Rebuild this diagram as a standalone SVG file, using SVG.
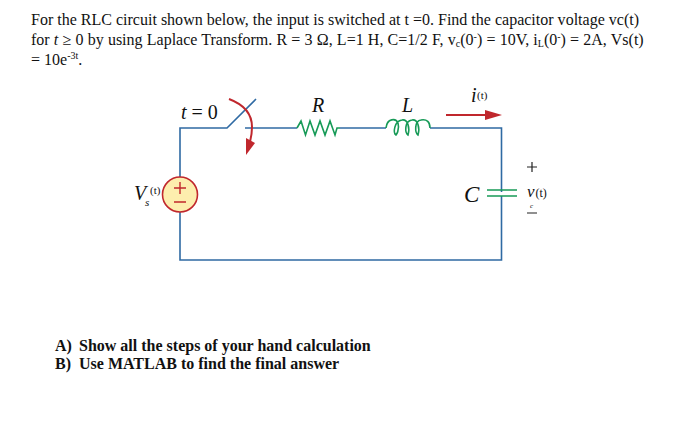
<svg xmlns="http://www.w3.org/2000/svg" width="696" height="423" viewBox="0 0 696 423">
<style>
text{font-family:"Liberation Serif","Times New Roman",serif;fill:#111}
.p{font-size:16px}
.b{font-size:16px;font-weight:bold}
.i{font-style:italic}
.l{font-size:20px;font-style:italic}
.s{font-size:11px}
.w{fill:none;stroke:#2f6aa3;stroke-width:1.6}
.g{fill:none;stroke:#179a57;stroke-width:1.6}
.r{fill:none;stroke:#c0272d;stroke-width:2}
.rf{fill:#c0272d}
</style>
<rect width="696" height="423" fill="#fff"/>
<g id="problem">
<text class="p" x="31" y="25" textLength="608" lengthAdjust="spacingAndGlyphs">For the RLC circuit shown below, the input is switched at t =0. Find the capacitor voltage vc(t)</text>
<text class="p" x="31" y="45" word-spacing="0.2">for <tspan class="i">t</tspan> ≥ 0 by using Laplace Transform. R = 3 Ω, L=1 H, C=1/2 F, v<tspan font-size="10" dy="2">c</tspan><tspan dy="-2">(0</tspan><tspan font-size="10" dy="-5">-</tspan><tspan dy="5">) = 10V, i</tspan><tspan font-size="10" dy="2">L</tspan><tspan dy="-2">(0</tspan><tspan font-size="10" dy="-5">-</tspan><tspan dy="5">) = 2A, Vs(t)</tspan></text>
<text class="p" x="31" y="65">= 10e<tspan font-size="10" dy="-6">-3t</tspan><tspan dy="6">.</tspan></text>
</g>
<g id="connectors">
<path class="w" d="M180 177V128H227L256 99"/>
<path class="w" d="M245 128H297"/>
<path class="w" d="M340 128H386"/>
<path class="w" d="M430 128H501.500V192M501.500 196V260H180V212"/>
</g>
<g id="switch">
<text class="l" x="181" y="119">t<tspan font-style="normal"> = 0</tspan></text>
<path class="r" d="M229 99C245 105 252 115 252 127Q252 134 250 142"/>
<path class="rf" d="M246 155V138L255 143Z"/>
</g>
<g id="resistor">
<text class="l" x="312" y="112">R</text>
<path class="g" d="M297 128L301 121L305.500 135L310 121L315 135L320 121L325 135L330 121L335 135L337 128H340"/>
</g>
<g id="inductor">
<text class="l" x="402" y="112">L</text>
<path class="g" d="M386 128C387 118 396 118 398 123C400 130 396 135 396 135C393 133 394 121 402 120C408 119 410 128 408 135C405 133 404 121 412 120C418 119 420 128 418 135C415 133 414 121 421 120C427 119 430 122 430 128"/>
</g>
<g id="current">
<text class="l" x="471" y="102">i</text>
<text class="s" x="477" y="99">(t)</text>
<path class="r" d="M446 115H486"/>
<path class="rf" d="M485 110L502 115L485 120Z"/>
</g>
<g id="source">
<circle cx="180" cy="194.500" r="17.500" fill="#fdeeae" stroke="#c0272d" stroke-width="1.600"/>
<path fill="none" stroke="#c0272d" stroke-width="1.400" d="M174 188H186M180 182V194M174 202H186"/>
<text class="l" x="134" y="200">V</text>
<text class="s i" x="145" y="206">s</text>
<text class="s" x="150" y="194">(t)</text>
</g>
<g id="capacitor">
<text class="l" x="464" y="202" style="font-size:23px">C</text>
<path class="g" d="M487 190H517M487 196H517"/>
</g>
<g id="capacitor-voltage">
<path fill="none" stroke="#222" stroke-width="1.200" d="M527 167H537M532 162V172M527 213H537"/>
<text class="i" x="527" y="197" style="font-size:17px">v</text>
<text class="i" x="530" y="207.500" style="font-size:7px">c</text>
<text class="s" x="535.500" y="197" style="font-size:12px">(t)</text>
</g>
<g id="tasks">
<text class="b" x="55" y="351">A)<tspan x="79">Show all the steps of your hand calculation</tspan></text>
<text class="b" x="55" y="368.500">B)<tspan x="79">Use MATLAB to find the final answer</tspan></text>
</g>
</svg>
